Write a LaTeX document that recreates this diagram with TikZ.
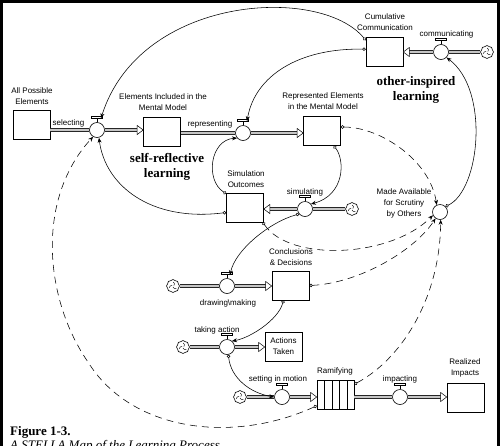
\documentclass[tikz,border=0pt]{standalone}
\usepackage{fontspec}
\setmainfont{Liberation Serif}
\newfontfamily\arialfont{Liberation Sans}
\usetikzlibrary{arrows.meta,shapes.symbols,calc}

\tikzset{
  stock/.style={draw, fill=white, minimum width=37pt, minimum height=29pt, inner sep=0pt, line width=0.6pt},
  valve/.style={circle, draw, fill=white, minimum size=15pt, inner sep=0pt, line width=0.6pt},
  cloudy/.style={cloud, cloud puffs=8, cloud puff arc=110, draw, fill=white, minimum width=13pt, minimum height=13pt, inner sep=0pt, line width=0.6pt},
  pipe/.style={draw=black!85, double=gray!45, double distance=2.2pt, line width=0.5pt},
  lbl/.style={font=\arialfont\fontsize{8}{11}\selectfont, align=center, inner sep=0pt},
  big/.style={font=\bfseries\fontsize{13}{15}\selectfont, align=center, inner sep=0pt},
  link/.style={{Circle[open,length=3.4pt,width=3.4pt]}-{Stealth[length=5pt,width=4pt]}, line width=0.55pt},
  dlink/.style={link, dash pattern=on 7pt off 5pt},
  flowhead/.pic={\draw[fill=white, line width=0.5pt] (0,0) -- (-6,-4.5) -- (-6,4.5) -- cycle;}
}

% handle on top of a flow valve
\newcommand{\valvetop}[1]{%
  \draw[line width=0.6pt] (#1.north) -- ++(0,-4);
  \draw[fill=white, line width=0.5pt] ([xshift=-5.5pt,yshift=4pt]#1.north) rectangle ([xshift=5.5pt,yshift=6pt]#1.north);}

\begin{document}
\begin{tikzpicture}[x=1pt,y=-1pt]
\useasboundingbox (0,0) rectangle (500,445);
\clip (0,0) rectangle (500,445);
\draw[line width=3pt] (1.5,450) -- (1.5,1.5) -- (498.5,1.5) -- (498.5,450);

% stocks
\node[stock] (allposs) at (31.5,125) {};
\node[stock] (incl) at (162,131.5) {};
\node[stock] (repr) at (322,131) {};
\node[stock] (cumcomm) at (384.5,52) {};
\node[stock] (simout) at (245,207.5) {};
\node[stock] (concl) at (290.5,285.5) {};
\node[stock, lbl] (actions) at (283.5,346.5) {Actions\\Taken};
\node[stock] (ramif) at (335.5,395) {};
\foreach \i in {1,...,4}
  \draw ($(ramif.north west)!\i/5!(ramif.north east)$) -- ($(ramif.south west)!\i/5!(ramif.south east)$);
\node[stock] (realized) at (465.5,397.5) {};

% valves and clouds
\node[valve] (vsel) at (97,130) {};
\node[valve] (vrep) at (243,133) {};
\node[valve] (vcom) at (441,52) {};
\node[valve] (vsim) at (305,209) {};
\node[valve] (vmade) at (440,212) {};
\node[valve] (vdraw) at (227,286) {};
\node[valve] (vtake) at (227,347) {};
\node[valve] (vset) at (282,397) {};
\node[valve] (vimp) at (400,397) {};
\node[cloudy] (ccom) at (487,52) {};
\node[cloudy] (csim) at (352,209) {};
\node[cloudy] (cdraw) at (173,286) {};
\node[cloudy] (ctake) at (183,347) {};
\node[cloudy] (cset) at (240,397) {};
\foreach \c in {ccom,csim,cdraw,ctake,cset}
  \foreach \a in {30,150,270}
    \draw[line width=0.45pt] ($(\c.center)+(\a:1pt)$) to[bend right=60] ($(\c.center)+(\a+55:4pt)$);

% flows
\draw[pipe] (allposs.east |- vsel) -- (vsel.west);
\draw[pipe] (vsel.east) -- ($(incl.west |- vsel)+(-6,0)$);
\pic at (incl.west |- vsel) {flowhead};
\draw[pipe] (incl.east |- vrep) -- (vrep.west);
\draw[pipe] (vrep.east) -- ($(repr.west |- vrep)+(-6,0)$);
\pic at (repr.west |- vrep) {flowhead};
\draw[pipe] (ccom.west) -- (vcom.east);
\draw[pipe] (vcom.west) -- ($(cumcomm.east |- vcom)+(6,0)$);
\pic[rotate=180] at (cumcomm.east |- vcom) {flowhead};
\draw[pipe] (csim.west) -- (vsim.east);
\draw[pipe] (vsim.west) -- ($(simout.east |- vsim)+(6,0)$);
\pic[rotate=180] at (simout.east |- vsim) {flowhead};
\draw[pipe] (cdraw.east) -- (vdraw.west);
\draw[pipe] (vdraw.east) -- ($(concl.west |- vdraw)+(-6,0)$);
\pic at (concl.west |- vdraw) {flowhead};
\draw[pipe] (ctake.east) -- (vtake.west);
\draw[pipe] (vtake.east) -- ($(actions.west |- vtake)+(-6,0)$);
\pic at (actions.west |- vtake) {flowhead};
\draw[pipe] (cset.east) -- (vset.west);
\draw[pipe] (vset.east) -- ($(ramif.west |- vset)+(-6,0)$);
\pic at (ramif.west |- vset) {flowhead};
\draw[pipe] (ramif.east |- vimp) -- (vimp.west);
\draw[pipe] (vimp.east) -- ($(realized.west |- vimp)+(-6,0)$);
\pic at (realized.west |- vimp) {flowhead};

\valvetop{vsel}
\valvetop{vrep}
\valvetop{vcom}
\valvetop{vsim}
\valvetop{vdraw}
\valvetop{vtake}
\valvetop{vset}
\valvetop{vimp}

% connectors
\draw[link] ([yshift=-3pt]cumcomm.north west) .. controls (320,-15) and (140,-5) .. ([xshift=4pt,yshift=4pt]vsel.north);
\draw[link] ([yshift=-12pt]cumcomm.north west) .. controls (300,48) and (255,75) .. ([xshift=4pt,yshift=4pt]vrep.north);
\draw[link] ([xshift=-7pt]repr.south east) .. controls (345,160) and (345,195) .. (vsim.40);
\draw[link] ([yshift=-1pt]simout.north west) .. controls (205,180) and (210,140) .. (vrep.220);
\draw[link] ([yshift=-5pt]simout.west) .. controls (150,222) and (105,185) .. ([xshift=2pt]vsel.south);
\draw[link] (vmade.45) .. controls (480,190) and (490,90) .. (vcom.-45);
\draw[link] (vsim.220) .. controls (270,222) and (235,250) .. ([xshift=3pt,yshift=3pt]vdraw.north);
\draw[link] ([xshift=-7pt]concl.south) .. controls (278,320) and (250,338) .. (vtake.50);
\draw[link] (vtake.-80) .. controls (231,378) and (250,393) .. (vset.west);
\draw[dlink] ([yshift=4pt]repr.east) .. controls (380,127) and (430,160) .. (vmade.115);
\draw[dlink] ([xshift=-1pt]simout.south east) .. controls (290,262) and (390,258) .. (vmade.205);
\draw[dlink] (concl.east) .. controls (360,283) and (415,250) .. (vmade.235);
\draw[dlink] ([yshift=-4pt]ramif.north east) .. controls (400,360) and (440,300) .. (vmade.275);
\draw[dlink] ([yshift=4pt]ramif.south west) .. controls (230,445) and (130,430) .. (88,362) .. controls (45,300) and (35,200) .. (vsel.240);

% labels
\node[lbl] (lallposs) at (32,96.5) {All Possible\\Elements};
\node[lbl] (lincl) at (163,102.5) {Elements Included in the\\Mental Model};
\node[lbl] (lrepr) at (323,101.5) {Represented Elements\\in the Mental Model};
\node[lbl] (lcumcomm) at (385,22.5) {Cumulative\\Communication};
\node[lbl] (lsimout) at (246,179) {Simulation\\Outcomes};
\node[lbl] (lconcl) at (291,257) {Conclusions\\\& Decisions};
\node[lbl] (lmade) at (404,203) {Made Available\\for Scrutiny\\by Others};
\node[lbl] (lrealized) at (465,368) {Realized\\Impacts};
\node[lbl] (lramif) at (335,371) {Ramifying};
\node[lbl] (lsel) at (68.5,123) {selecting};
\node[lbl] (lrep) at (210,124) {representing};
\node[lbl] (lcom) at (446.5,34) {communicating};
\node[lbl] (lsim) at (305,192) {simulating};
\node[lbl] (ldraw) at (228,303) {drawing\textbackslash making};
\node[lbl] (ltake) at (217,330) {taking action};
\node[lbl] (lset) at (278,379) {setting in motion};
\node[lbl] (limp) at (400,379) {impacting};

\node[big] (lself) at (167,166.5) {self-reflective\\learning};
\node[big] (lother) at (416,89.5) {other-inspired\\learning};

\node[big, anchor=base west] (figno) at (10,435) {Figure 1-3.};
\node[font=\itshape\fontsize{13}{15}\selectfont, anchor=base west, inner sep=0pt] (figcap) at (10,449) {A STELLA Map of the Learning Process};
\end{tikzpicture}
\end{document}
